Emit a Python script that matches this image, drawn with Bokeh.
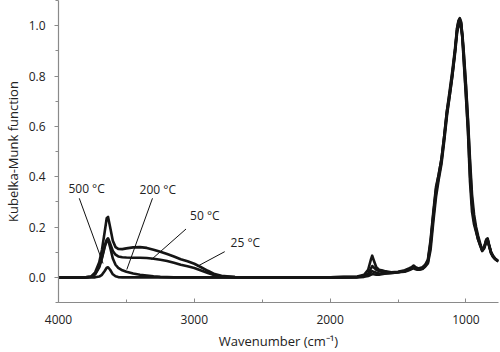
from bokeh.plotting import figure
from bokeh.models import Range1d, FixedTicker, NumeralTickFormatter
from bokeh.core.properties import value
from bokeh.embed import file_html
from bokeh.resources import INLINE

# Wavenumber (cm-1) sample points
wn = [
    4000, 3800, 3760, 3730, 3700, 3680, 3660, 3645, 3635, 3620,
    3600, 3580, 3560, 3530, 3500, 3450, 3400, 3350, 3300, 3250,
    3200, 3150, 3100, 3050, 3000, 2950, 2900, 2850, 2800, 2700,
    2000, 1900, 1800, 1750, 1720, 1700, 1690, 1680, 1660, 1640,
    1620, 1600, 1550, 1500, 1450, 1420, 1400, 1385, 1370, 1350,
    1320, 1300, 1280, 1260, 1240, 1220, 1200, 1180, 1160, 1140,
    1120, 1100, 1080, 1065, 1055, 1045, 1035, 1025, 1015, 1000,
    985, 970, 955, 940, 925, 910, 895, 880, 865, 850,
    840, 830, 815, 800, 785, 770, 760]

km_25 = [
    0, 0, 0.003, 0.02, 0.06, 0.11, 0.18, 0.235, 0.24, 0.2,
    0.145, 0.12, 0.113, 0.112, 0.115, 0.119, 0.12, 0.117, 0.11, 0.102,
    0.093, 0.083, 0.072, 0.064, 0.054, 0.04, 0.026, 0.013, 0.006, 0.001,
    0, 0.002, 0.003, 0.01, 0.03, 0.07, 0.086, 0.07, 0.04, 0.03,
    0.028, 0.025, 0.02, 0.022, 0.028, 0.035, 0.04, 0.047, 0.04, 0.035,
    0.04, 0.05, 0.07, 0.15, 0.26, 0.36, 0.41, 0.47, 0.56, 0.66,
    0.73, 0.81, 0.9, 0.99, 1.015, 1.027, 1.01, 0.94, 0.85, 0.72,
    0.58, 0.38, 0.26, 0.21, 0.18, 0.15, 0.13, 0.11, 0.12, 0.15,
    0.155, 0.13, 0.1, 0.085, 0.075, 0.068, 0.065]

km_50 = [
    0, 0, 0.002, 0.015, 0.045, 0.08, 0.125, 0.15, 0.155, 0.135,
    0.105, 0.09, 0.083, 0.08, 0.079, 0.078, 0.078, 0.077, 0.074, 0.07,
    0.065, 0.058, 0.05, 0.044, 0.037, 0.027, 0.017, 0.008, 0.003, 0.001,
    0, 0.001, 0.002, 0.006, 0.015, 0.035, 0.045, 0.04, 0.03, 0.025,
    0.022, 0.02, 0.018, 0.02, 0.025, 0.032, 0.038, 0.042, 0.036, 0.03,
    0.035, 0.045, 0.06, 0.13, 0.24, 0.34, 0.4, 0.46, 0.55, 0.65,
    0.72, 0.8, 0.89, 0.97, 1.0, 1.005, 0.99, 0.95, 0.88, 0.76,
    0.62, 0.45, 0.3, 0.23, 0.19, 0.155, 0.13, 0.105, 0.115, 0.14,
    0.145, 0.125, 0.095, 0.08, 0.072, 0.066, 0.063]

km_200 = [
    0, 0, 0.002, 0.012, 0.04, 0.075, 0.12, 0.145, 0.15, 0.12,
    0.075, 0.05, 0.038, 0.028, 0.022, 0.015, 0.01, 0.007, 0.004, 0.002,
    0.001, 0, 0, 0, 0, 0, 0, 0, 0, 0,
    0, 0, 0.001, 0.004, 0.01, 0.02, 0.025, 0.022, 0.018, 0.015,
    0.015, 0.016, 0.018, 0.02, 0.022, 0.028, 0.033, 0.036, 0.032, 0.03,
    0.033, 0.042, 0.055, 0.11, 0.22, 0.32, 0.39, 0.45, 0.54, 0.64,
    0.72, 0.8, 0.9, 0.98, 1.01, 1.02, 1.005, 0.96, 0.89, 0.77,
    0.63, 0.47, 0.33, 0.25, 0.2, 0.165, 0.135, 0.11, 0.12, 0.145,
    0.15, 0.13, 0.1, 0.083, 0.074, 0.068, 0.064]

km_500 = [
    0, 0, 0, 0, 0.003, 0.01, 0.025, 0.038, 0.04, 0.03,
    0.012, 0.004, 0.001, 0, 0, 0, 0, 0, 0, 0,
    0, 0, 0, 0, 0, 0, 0, 0, 0, 0,
    0, 0, 0, 0.002, 0.005, 0.01, 0.012, 0.012, 0.01, 0.01,
    0.012, 0.014, 0.016, 0.02, 0.025, 0.03, 0.035, 0.04, 0.034, 0.03,
    0.035, 0.048, 0.065, 0.14, 0.25, 0.35, 0.41, 0.47, 0.56, 0.66,
    0.74, 0.82, 0.91, 0.99, 1.02, 1.03, 1.015, 0.95, 0.86, 0.73,
    0.59, 0.41, 0.29, 0.225, 0.185, 0.15, 0.125, 0.105, 0.12, 0.15,
    0.15, 0.128, 0.098, 0.084, 0.074, 0.067, 0.064]

series = [km_25, km_50, km_200, km_500]

# Annotation labels and leader lines (data coordinates)
label_text = ["500 °C", "200 °C", "50 °C", "25 °C"]
label_x = [3927, 3403, 3031, 2733]
label_y = [0.353, 0.349, 0.247, 0.137]
lead_x0 = [3847, 3308, 3061, 2776]
lead_y0 = [0.314, 0.314, 0.192, 0.102]
lead_x1 = [3672, 3497, 3315, 2980]
lead_y1 = [0.055, 0.031, 0.071, 0.043]

x_major = [4000, 3000, 2000, 1000]
x_minor = [3500, 2500, 1500]
y_major = [0.0, 0.2, 0.4, 0.6, 0.8, 1.0]
y_minor = [-0.1, 0.1, 0.3, 0.5, 0.7, 0.9, 1.1]

FONT = "Open Sans"
TXT = "#222222"
AX = "#8a8a8a"

p = figure(width=500, height=352, output_backend="svg", toolbar_location=None,
           x_range=Range1d(4000, 760), y_range=Range1d(-0.1, 1.1),
           min_border_left=53, min_border_right=2, min_border_top=0, min_border_bottom=47)
p.outline_line_color = None
p.xgrid.visible = False
p.ygrid.visible = False
p.background_fill_color = "white"
p.border_fill_color = "white"

for s in series:
    p.line(wn, s, line_color="#151515", line_width=2.6, line_join="round")

p.segment(x0=lead_x0, y0=lead_y0, x1=lead_x1, y1=lead_y1, line_color="#111111", line_width=1)
p.text(x=label_x, y=label_y, text=label_text, text_font=value(FONT), text_font_size="12px",
       text_color=TXT, text_baseline="middle", text_align="left")

xa = p.xaxis[0]
xa.ticker = FixedTicker(ticks=x_major, minor_ticks=x_minor)
xa.axis_label = "Wavenumber (cm⁻¹)"
ya = p.yaxis[0]
ya.ticker = FixedTicker(ticks=y_major, minor_ticks=y_minor)
ya.formatter = NumeralTickFormatter(format="0.0")
ya.axis_label = "Kubelka-Munk function"

for ax in (xa, ya):
    ax.axis_line_color = AX
    ax.axis_line_width = 1.2
    ax.major_tick_line_color = AX
    ax.minor_tick_line_color = AX
    ax.major_label_text_font = FONT
    ax.major_label_text_font_size = "12px"
    ax.major_label_text_color = TXT
    ax.axis_label_text_font = FONT
    ax.axis_label_text_font_size = "13px"
    ax.axis_label_text_font_style = "normal"
    ax.axis_label_text_color = TXT

ya.major_tick_out = 4
ya.major_tick_in = 0
ya.minor_tick_out = 3
ya.minor_tick_in = 0
xa.major_tick_out = 0
xa.major_tick_in = 4
xa.minor_tick_out = 0
xa.minor_tick_in = 3

xa.major_label_standoff = 12
xa.axis_label_standoff = 5
ya.major_label_standoff = 9
ya.axis_label_standoff = 4

open("out.html", "w").write(file_html(p, INLINE))
